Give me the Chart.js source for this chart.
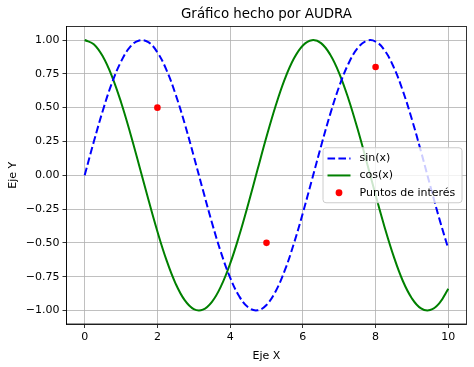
<!DOCTYPE html>
<html>
<head>
<meta charset="utf-8">
<script src="https://cdn.jsdelivr.net/npm/chart.js@4.4.1/dist/chart.umd.min.js"></script>
<style>
html, body { margin: 0; padding: 0; background: #fff; }
</style>
</head>
<body>
<canvas id="myChart" width="474" height="367"></canvas>
<script>
// values
const xValues = [0, 0.25, 0.5, 0.75, 1, 1.25, 1.5, 1.75, 2, 2.25, 2.5, 2.75, 3, 3.25, 3.5, 3.75, 4, 4.25, 4.5, 4.75,
    5, 5.25, 5.5, 5.75, 6, 6.25, 6.5, 6.75, 7, 7.25, 7.5, 7.75, 8, 8.25, 8.5, 8.75, 9, 9.25, 9.5, 9.75, 10];
const sinValues = [0.000, 0.247, 0.479, 0.682, 0.841, 0.949, 0.997, 0.984, 0.909, 0.778, 0.598, 0.382, 0.141,
    -0.108, -0.351, -0.572, -0.757, -0.895, -0.978, -0.999, -0.959, -0.859, -0.706, -0.508, -0.279, -0.033,
    0.215, 0.450, 0.657, 0.823, 0.938, 0.994, 0.989, 0.923, 0.798, 0.624, 0.412, 0.174, -0.075, -0.319, -0.544];
const cosValues = [1.000, 0.969, 0.878, 0.732, 0.540, 0.315, 0.071, -0.178, -0.416, -0.628, -0.801, -0.924, -0.990,
    -0.994, -0.936, -0.820, -0.654, -0.446, -0.211, 0.038, 0.284, 0.512, 0.709, 0.861, 0.960, 0.999, 0.977,
    0.893, 0.754, 0.568, 0.347, 0.104, -0.146, -0.386, -0.602, -0.782, -0.911, -0.985, -0.997, -0.948, -0.839];
const pointX = [2, 5, 8];
const pointY = [0.5, -0.5, 0.8];
const xTicks = [0, 2, 4, 6, 8, 10];
const yTicks = [-1, -0.75, -0.5, -0.25, 0, 0.25, 0.5, 0.75, 1];
const chartTitle = 'Gráfico hecho por AUDRA';

const FONT = 'DejaVu Sans';
const dashPattern = [7.6, 3.3];

// title centred over the axes, top/right spines and a matplotlib-like legend
const frameAndLegend = {
    id: 'frameAndLegend',
    afterDraw(chart) {
        const ctx = chart.ctx;
        const a = chart.chartArea;
        ctx.save();
        ctx.strokeStyle = '#000';
        ctx.lineWidth = 0.8;
        ctx.strokeRect(a.left, a.top, a.right - a.left, a.bottom - a.top);

        ctx.fillStyle = '#000';
        ctx.font = '13.4px "' + FONT + '"';
        ctx.textAlign = 'center';
        ctx.textBaseline = 'middle';
        ctx.fillText(chartTitle, (a.left + a.right) / 2, a.top - 11.5);

        const w = 139, h = 55;
        const bx = a.right - 4.5 - w;
        const by = (a.top + a.bottom) / 2 - h / 2;
        ctx.beginPath();
        ctx.roundRect(bx, by, w, h, 3);
        ctx.fillStyle = 'rgba(255,255,255,0.8)';
        ctx.fill();
        ctx.strokeStyle = '#cccccc';
        ctx.lineWidth = 1;
        ctx.stroke();

        const hx = bx + 4.5, hw = 23, tx = bx + 36.5;
        const rows = [by + 10.7, by + 27.7, by + 45];
        ctx.lineWidth = 2;
        ctx.strokeStyle = 'blue';
        ctx.setLineDash(dashPattern);
        ctx.beginPath(); ctx.moveTo(hx, rows[0]); ctx.lineTo(hx + hw, rows[0]); ctx.stroke();
        ctx.setLineDash([]);
        ctx.strokeStyle = 'green';
        ctx.beginPath(); ctx.moveTo(hx, rows[1]); ctx.lineTo(hx + hw, rows[1]); ctx.stroke();
        ctx.fillStyle = 'red';
        ctx.beginPath(); ctx.arc(hx + hw / 2, rows[2], 3.4, 0, Math.PI * 2); ctx.fill();

        ctx.fillStyle = '#000';
        ctx.font = '11px "' + FONT + '"';
        ctx.textAlign = 'left';
        const labels = chart.data.datasets.map(d => d.label);
        labels.forEach((t, i) => ctx.fillText(t, tx, rows[i]));
        ctx.restore();
    }
};

new Chart(document.getElementById('myChart'), {
    type: 'line',
    data: {
        datasets: [{
            label: 'sin(x)',
            data: xValues.map((x, i) => ({ x: x, y: sinValues[i] })),
            borderColor: 'blue',
            borderWidth: 2,
            borderDash: dashPattern,
            pointRadius: 0,
            tension: 0.4
        }, {
            label: 'cos(x)',
            data: xValues.map((x, i) => ({ x: x, y: cosValues[i] })),
            borderColor: 'green',
            borderWidth: 2,
            pointRadius: 0,
            tension: 0.4
        }, {
            type: 'scatter',
            label: 'Puntos de interés',
            data: pointX.map((x, i) => ({ x: x, y: pointY[i] })),
            backgroundColor: 'red',
            borderColor: 'red',
            borderWidth: 0,
            pointRadius: 3.3
        }]
    },
    options: {
        responsive: false,
        animation: false,
        layout: { padding: { left: 0, right: 7.5, top: 26.5, bottom: 0 } },
        plugins: {
            legend: { display: false },
            tooltip: { enabled: false },
            title: { display: false }
        },
        scales: {
            x: {
                type: 'linear',
                min: -0.5,
                max: 10.5,
                afterBuildTicks: s => { s.ticks = xTicks.map(v => ({ value: v })); },
                afterFit: s => { s.height = 43; },
                ticks: {
                    color: '#000',
                    font: { family: FONT, size: 11 },
                    padding: 3,
                    maxRotation: 0
                },
                grid: { color: '#b0b0b0', lineWidth: 0.8, tickColor: '#000', tickLength: 4 },
                border: { color: '#000', width: 0.8 },
                title: {
                    display: true,
                    text: 'Eje X',
                    color: '#000',
                    font: { family: FONT, size: 11 },
                    padding: { top: 7.4, bottom: 4 }
                }
            },
            y: {
                min: -1.1,
                max: 1.1,
                afterBuildTicks: s => { s.ticks = yTicks.map(v => ({ value: v })); },
                afterFit: s => { s.width = 66.5; },
                ticks: {
                    color: '#000',
                    font: { family: FONT, size: 11 },
                    padding: 3,
                    callback: v => (v < 0 ? '\u2212' : '') + Math.abs(v).toFixed(2)
                },
                grid: { color: '#b0b0b0', lineWidth: 0.8, tickColor: '#000', tickLength: 4 },
                border: { color: '#000', width: 0.8 },
                title: {
                    display: true,
                    text: 'Eje Y',
                    color: '#000',
                    font: { family: FONT, size: 11 },
                    padding: { top: 6.1, bottom: 4 }
                }
            }
        }
    },
    plugins: [frameAndLegend]
});
</script>
</body>
</html>
